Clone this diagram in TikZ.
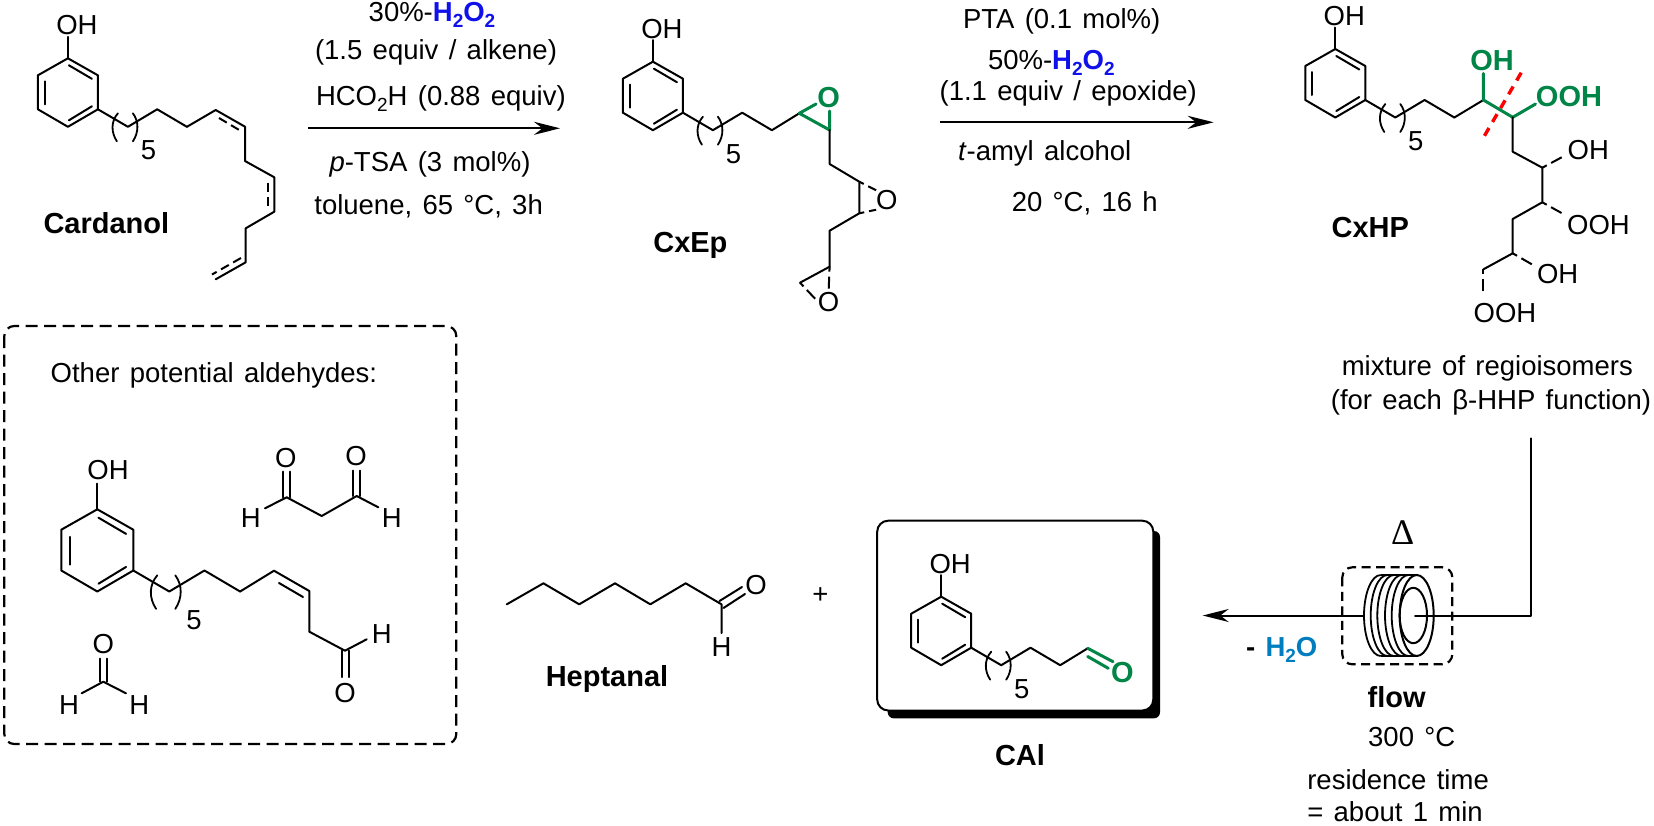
\documentclass[tikz,border=0pt]{standalone}
\usepackage{fontspec}
\setmainfont{Liberation Sans}[WordSpace=1.35]
\newfontfamily\dfont{Liberation Serif}
\usetikzlibrary{calc,arrows.meta}
\definecolor{grn}{RGB}{0,133,71}
\definecolor{hblue}{RGB}{16,16,235}
\definecolor{wblue}{RGB}{0,125,190}
\newcommand{\subn}[1]{\raisebox{-0.22em}{\fontsize{19}{19}\selectfont #1}}
\newcommand{\hho}{{\color{hblue}\bfseries H\subn{2}O\subn{2}}}
\tikzset{
  every node/.style={inner sep=0pt,outer sep=0pt,font=\fontsize{27.5}{30}\selectfont},
  bond/.style={line width=2pt,line join=round,line cap=round},
  bdash/.style={line width=2pt,dash pattern=on 5pt off 5pt on 12pt off 30pt},
  ldash/.style={line width=2pt,dash pattern=on 9pt off 5pt},
  gbond/.style={line width=3pt,color=grn,line join=round,line cap=round},
  paren/.style={line width=1.8pt,line cap=round},
  rxn/.style={line width=2pt,-{Stealth[length=26pt,width=13pt]}},
  dbox/.style={line width=2.2pt,dash pattern=on 12pt off 6.5pt,rounded corners=10pt},
  lab/.style={font=\fontsize{29}{32}\selectfont\bfseries},
  gtxt/.style={font=\fontsize{29}{32}\selectfont\bfseries,text=grn},
}
% phenol with the first bonds of the repeated chain; #4 = name of its last atom
\newcommand{\phenol}[4]{%
\begin{scope}[shift={(#1,#2)},scale=#3]
  \draw[bond] (0,-21.5) -- (0,0);
  \draw[bond] (0,0) -- (30,17) -- (30,51) -- (0,68.5) -- (-30,51) -- (-30,17) -- cycle;
  \draw[bond] (1,7) -- (24,20.5);
  \draw[bond] (-23,23) -- (-23,46);
  \draw[bond] (1,62) -- (24,48);
  \draw[bond] (30,51) -- (60,68.5) -- (89.3,51) -- (119,68.5) coordinate (#4);
  \draw[paren] (50,55) .. controls (43,63) and (43,74) .. (49,83);
  \draw[paren] (65,55) .. controls (71,63) and (71,74) .. (65,83);
  \node (#4oh) at (9,-33) {OH};
  \node (#4five) at (80.5,92) {5};
\end{scope}}
\begin{document}
\begin{tikzpicture}[x=1pt,y=-1pt]
\useasboundingbox (0,0) rectangle (1654,825);
%% Cardanol
\phenol{67.9}{58.3}{1}{ca}
\draw[bond] (ca) -- (215.7,110) coordinate (ca1) -- (245,126.7) coordinate (ca2) -- (245,161) -- (274.3,177.3) coordinate (ca3) -- (274.3,211.7) coordinate (ca4) -- (245.7,228.3) -- (245.7,262.3) coordinate (ca5) -- (215.7,279.3) coordinate (ca6);
\draw[ldash] (219,118) -- (240,130.5);
\draw[ldash] (267.5,183) -- (267.5,208);
\draw[ldash] (241,258) -- (212,274.5);
\node[lab] (cardanol) at (106.4,223) {Cardanol};
%% first arrow
\node (t1) at (432,15) {30\%-\hho};
\node (t2) at (436,52) {(1.5 equiv / alkene)};
\node[anchor=west] (t3) at (316,99) {HCO\subn{2}H (0.88 equiv)};
\coordinate (a1s) at (308,128.3);
\coordinate (a1e) at (560,128.3);
\draw[rxn] (a1s) -- (a1e);
\node (t4) at (430,164) {\textit{p}-TSA (3 mol\%)};
\node (t5) at (428.6,206.7) {toluene, 65 °C, 3h};
%% CxEp
\phenol{652.9}{61.7}{1}{ep}
\draw[bond] (ep) -- (799.3,113.3) coordinate (ep1);
\node[gtxt] (epo1) at (828.6,97.7) {O};
\draw[gbond] (816,104) -- (ep1) -- (829.6,130) coordinate (ep2) -- (829.6,111);
\draw[bond] (ep2) -- (829.6,164) -- (859.3,181.7) coordinate (ep3) -- (859.3,213.3) coordinate (ep4) -- (829.6,230.7) -- (829.6,266.7) coordinate (ep5) -- (800,282.7) coordinate (ep6);
\node (epo2) at (886.8,200) {O};
\draw[bdash] (ep3) -- (epo2.north west);
\draw[bdash] (ep4) -- (epo2.south west);
\node (epo3) at (828.6,301.7) {O};
\draw[bdash] (ep5) -- (epo3.north);
\draw[bdash] (ep6) -- (epo3.west);
\node[lab] (cxep) at (690.4,245) {CxEp};
%% second arrow
\node[anchor=west] (u1) at (963,21.7) {PTA (0.1 mol\%)};
\node[anchor=west] (u2) at (988,62.7) {50\%-\hho};
\node[anchor=west] (u3) at (939.6,93.3) {(1.1 equiv / epoxide)};
\coordinate (a2s) at (940,122.3);
\coordinate (a2e) at (1213.7,122.3);
\draw[rxn] (a2s) -- (a2e);
\node[anchor=west] (u4) at (958,153) {\textit{t}-amyl alcohol};
\node[anchor=west] (u5) at (1011.8,203) {20 °C, 16 h};
%% CxHP
\phenol{1335.3}{49}{1}{hp}
\draw[bond] (hp) -- (1483.4,100) coordinate (hp1);
\node[gtxt] (hpoh) at (1492,60.7) {OH};
\node[gtxt] (hpooh) at (1569,96.7) {OOH};
\draw[gbond] (1483.4,73.5) -- (hp1) -- (1512.7,117.3) coordinate (hp2) -- (1535.5,104);
\draw[bond] (hp2) -- (1512.7,151.7) -- (1542.3,167.7) coordinate (hp3) -- (1542.3,202.3) coordinate (hp4) -- (1512.7,219) -- (1512.7,253.3) coordinate (hp5) -- (1483.4,269.3) coordinate (hp6);
\node (hpo1) at (1588.3,150) {OH};
\node (hpo2) at (1598.5,225) {OOH};
\node (hpo3) at (1557.7,274.3) {OH};
\node (hpo4) at (1505,312.7) {OOH};
\draw[bdash] (hp3) -- (1566,155);
\draw[bdash] (hp4) -- (1566,215.5);
\draw[bdash] (hp5) -- (1536,266.7);
\draw[bdash] (hp6) -- (1483.4,297);
\coordinate (cuta) at (1521.2,72.7);
\coordinate (cutb) at (1482,140);
\draw[line width=3.4pt,red,dash pattern=on 9pt off 7pt] (cuta) -- (cutb);
\node[lab] (cxhp) at (1370.3,227.7) {CxHP};
\node (m1) at (1487.3,368.3) {mixture of regioisomers};
\node (m2) at (1491,402) {(for each β-HHP function)};
%% Other aldehydes box
\node[draw=none] (boxa) at (4.3,326) {};
\node[draw=none] (boxb) at (456.3,744) {};
\draw[dbox] (boxa) rectangle (boxb);
\node[anchor=west] (other) at (50.7,375) {Other potential aldehydes:};
\phenol{97.3}{509.3}{1.2}{bi}
\draw[bond] (bi) -- (274,570.7) coordinate (bi1) -- (309.3,591) coordinate (bi2) -- (309.3,631.7) -- (345,650.7) coordinate (bi3) -- (366.7,639.3);
\draw[bond] (279,583) -- (303,597);
\node (biH) at (381.7,634) {H};
\node (biO) at (345,693.3) {O};
\draw[bond] ($(bi3)+(-3.5,0)$) -- (341.5,677);
\draw[bond] ($(bi3)+(3.5,0)$) -- (348.5,677);
% malonaldehyde
\coordinate (ma1) at (286.7,497.3);
\coordinate (ma2) at (321.7,516);
\coordinate (ma3) at (356.7,496);
\node (maO1) at (285.7,458.3) {O};
\node (maO2) at (356,456) {O};
\node (maH1) at (250.7,518.3) {H};
\node (maH2) at (391.7,518.3) {H};
\draw[bond] (265,508.3) -- (ma1) -- (ma2) -- (ma3) -- (378.3,507.3);
\draw[bond] ($(ma1)+(-3.5,0)$) -- (283.2,471.7);
\draw[bond] ($(ma1)+(3.5,0)$) -- (290.2,471.7);
\draw[bond] ($(ma3)+(-3.5,0)$) -- (353.2,470.5);
\draw[bond] ($(ma3)+(3.5,0)$) -- (360.2,470.5);
% formaldehyde
\coordinate (fo) at (103.3,681.7);
\node (foO) at (103.3,644.3) {O};
\node (foH1) at (69,705) {H};
\node (foH2) at (139.3,705) {H};
\draw[bond] (81.7,693.3) -- (fo) -- (126,693.3);
\draw[bond] ($(fo)+(-3.5,0)$) -- (99.8,658.5);
\draw[bond] ($(fo)+(3.5,0)$) -- (106.8,658.5);
%% Heptanal
\node (heO) at (756,585) {O};
\node (heH) at (721.5,647.3) {H};
\draw[bond] (506.8,604.3) -- (543.4,583.3) -- (579.2,604.3) -- (615,583.3) -- (650.3,604.3) -- (685.7,583.3) -- (721.5,604.3) coordinate (he1) -- (721.5,633);
\draw[bond] (719.5,601) -- (742,587);
\draw[bond] (723.5,608) -- (745,594);
\node[lab] (hept) at (607,679.3) {Heptanal};
\node (plus) at (820.4,596) {+};
%% CAl
\fill[black,rounded corners=6pt] (887.7,531) rectangle (1160,718.3);
\draw[line width=2pt,fill=white,rounded corners=11pt] (877.2,520.7) rectangle (1153.3,710.5);
\phenol{941.2}{596.7}{1}{al}
\draw[bond] (al) -- (1087.7,648.3) coordinate (al1);
\draw[gbond] (al1) -- (1113,661.7);
\draw[gbond] (1087.7,656.5) -- (1108.3,668.3);
\node[gtxt] (alO) at (1122.3,672.3) {O};
\node[lab] (cal) at (1020,755) {CAl};
%% flow reactor
\node[font=\fontsize{36}{36}\selectfont] (delta) at (1402.7,533) {\dfont Δ};
\coordinate (fl0) at (1530.7,438.3);
\coordinate (fl1) at (1530.7,615.5);
\coordinate (fl2) at (1415,615.5);
\coordinate (coilL) at (1364,615.5);
\coordinate (a3e) at (1202.7,615.5);
\node (boxc) at (1342.3,567.3) {};
\node (boxd) at (1452.3,664.3) {};
\draw[dbox,dash pattern=on 9pt off 5.5pt] (boxc) rectangle (boxd);
\foreach \cc in {1380.7,1387.4,1394,1401.7,1408.4}{
  \draw[line width=1.8pt,shift={(\cc,615.5)}] (0,-40.5) .. controls (-9.2,-40.5) and (-16.7,-22.3) .. (-16.7,0) .. controls (-16.7,22.3) and (-9.2,40.5) .. (0,40.5);
}
\draw[line width=1.8pt] (1380.7,575) -- (1416.7,575) (1380.7,656) -- (1416.7,656);
\draw[line width=2pt,fill=white] (1416.7,615.5) ellipse [x radius=17,y radius=40.5];
\draw[line width=2pt] (1413.3,615.5) ellipse [x radius=13.7,y radius=27.7];
\draw[bond] (fl0) -- (fl1) -- (fl2);
\draw[line width=2pt,-{Stealth[length=26pt,width=13pt]}] (coilL) -- (a3e);
\node (water) at (1281.7,650) {\textbf{- \textcolor{wblue}{H\subn{2}O}}};
\node[lab] (flow) at (1396.7,696.7) {flow};
\node (temp) at (1411.7,736.7) {300 °C};
\node[anchor=west] (res1) at (1307.3,780) {residence time};
\node[anchor=west] (res2) at (1307.3,811.7) {= about 1 min};
\end{tikzpicture}
\end{document}
